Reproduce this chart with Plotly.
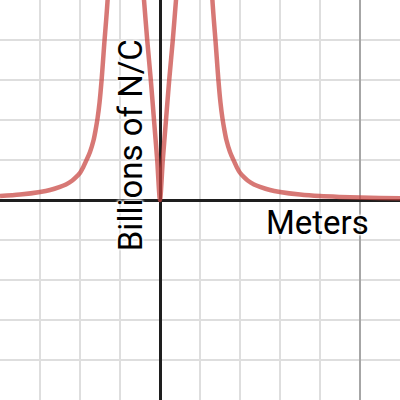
import plotly.graph_objects as go

# Field magnitude (x in grid units, 1 unit = one grid square)
left_x = [-4.0, -3.5, -3.0, -2.75, -2.5, -2.35, -2.2, -2.1, -2.0, -1.92, -1.85, -1.75,
          -1.66, -1.61, -1.56, -1.51, -1.46, -1.43, -1.39, -1.35, -1.31, -1.26, -1.22]
left_y = [0.097, 0.135, 0.2, 0.25, 0.33, 0.39, 0.48, 0.57, 0.68, 0.82, 0.97, 1.2,
          1.5, 1.75, 2.05, 2.45, 3.0, 3.4, 3.95, 4.45, 5.0, 6.0, 7.2]

inner_x = [-0.45, -0.40, -0.32, -0.23, -0.15, -0.07, 0.0, 0.07, 0.15, 0.23, 0.32, 0.40, 0.45]
inner_y = [5.6, 5.0, 4.0, 3.0, 2.0, 1.0, 0.0, 1.0, 2.0, 3.0, 4.0, 5.0, 5.6]

right_x = [1.22, 1.26, 1.31, 1.35, 1.39, 1.43, 1.46, 1.51, 1.56, 1.61, 1.66, 1.75, 1.85,
           1.92, 2.0, 2.1, 2.2, 2.35, 2.5, 2.75, 3.0, 3.5, 4.0, 4.5, 5.0, 5.5, 6.0]
right_y = [7.2, 6.0, 5.0, 4.45, 3.95, 3.4, 3.0, 2.45, 2.05, 1.75, 1.5, 1.2, 0.97,
           0.82, 0.68, 0.57, 0.48, 0.39, 0.33, 0.25, 0.2, 0.135, 0.097, 0.077, 0.063, 0.053, 0.045]

x_label = "Meters"
y_label = "Billions of N/C"

curve_color = "rgba(199,68,64,0.72)"
halo = "0 0 3px white, 0 0 3px white, 0 0 3px white, 0 0 3px white"

fig = go.Figure()
for xs, ys in [(left_x, left_y), (inner_x, inner_y), (right_x, right_y)]:
    fig.add_trace(go.Scatter(x=xs, y=ys, mode="lines",
                             line=dict(color=curve_color, width=4.5, shape="spline", smoothing=0.8),
                             hoverinfo="skip", showlegend=False))

axis_common = dict(
    dtick=5, tick0=0, showgrid=True, gridcolor="#a6a6a6", gridwidth=1.5,
    minor=dict(dtick=1, tick0=0, showgrid=True, gridcolor="#dedede", gridwidth=1.5),
    zeroline=True, zerolinecolor="#1e1e1e", zerolinewidth=2.5,
    showticklabels=False, ticks="", showline=False, fixedrange=True,
)
fig.update_layout(
    width=400, height=400,
    margin=dict(l=0, r=0, t=0, b=0),
    paper_bgcolor="white", plot_bgcolor="white",
    xaxis=dict(range=[-4, 6], **axis_common),
    yaxis=dict(range=[-5, 5], **axis_common),
    font=dict(family="Roboto, Arial, sans-serif", color="black"),
    annotations=[
        dict(x=3.94, y=-0.55, xref="x", yref="y", text=x_label, showarrow=False,
             font=dict(size=33, color="black", family="Roboto", shadow=halo),
             xanchor="center", yanchor="middle"),
        dict(x=-0.74, y=1.38, xref="x", yref="y", text=y_label, showarrow=False, textangle=-90,
             font=dict(size=33, color="black", family="Roboto", shadow=halo),
             xanchor="center", yanchor="middle"),
    ],
)
fig.write_html("out.html", config={"displayModeBar": False},
               post_script="document.body.style.margin='0';document.body.style.overflow='hidden';")
